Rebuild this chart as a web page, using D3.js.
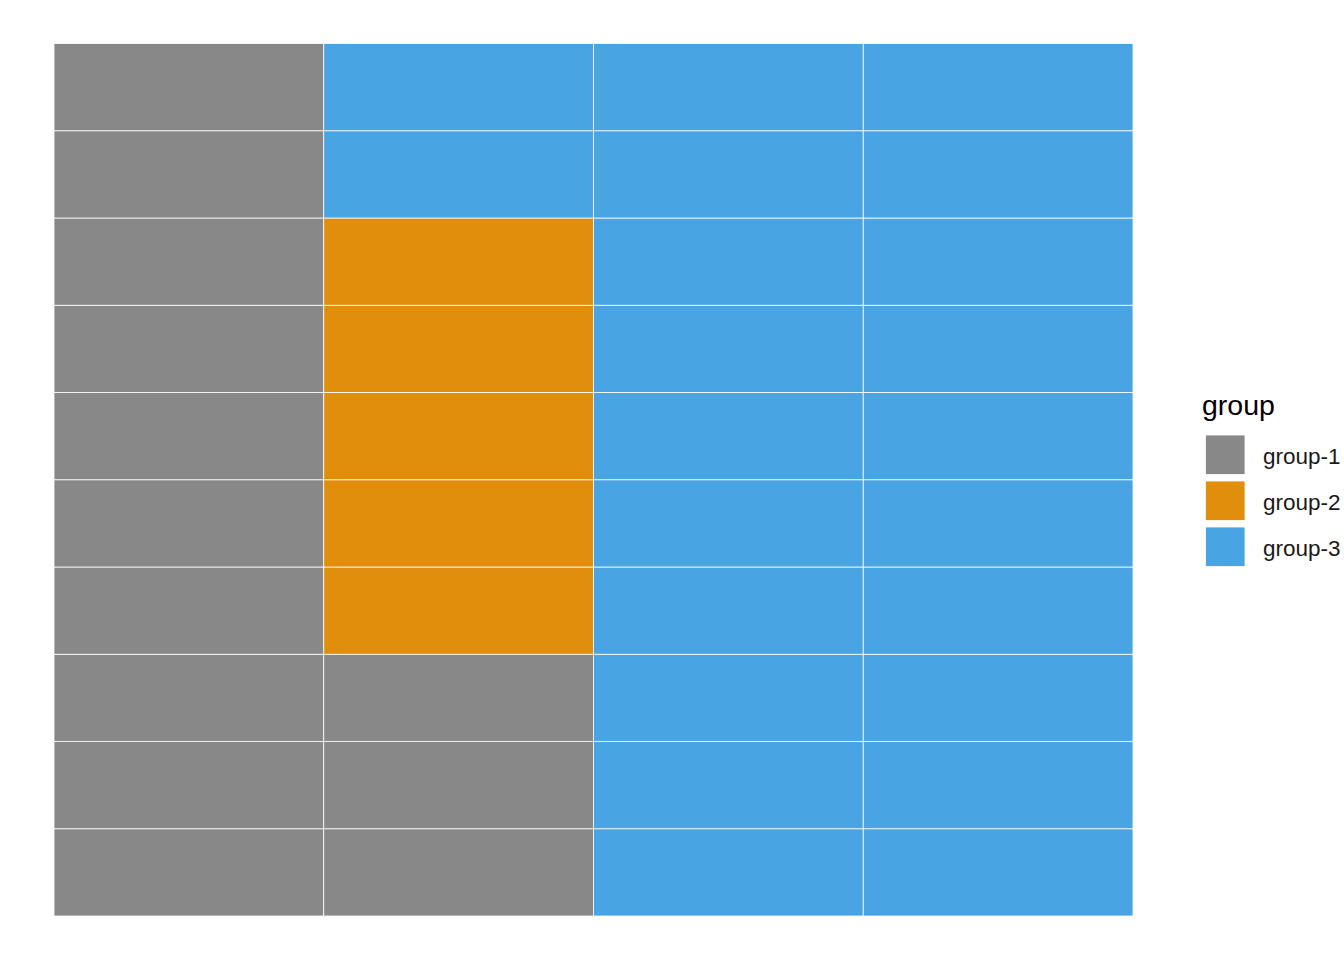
<!DOCTYPE html>
<html>
<head>
<meta charset="utf-8">
<script src="https://cdn.jsdelivr.net/npm/d3@7"></script>
<style>
  html, body { margin: 0; padding: 0; background: #fff; }
  text { font-family: "Liberation Sans", Arial, sans-serif; }
</style>
</head>
<body>
<svg id="chart" width="1344" height="960"></svg>
<script>
const groups = ["group-1", "group-2", "group-3"];
const counts = [13, 5, 22];
const colors = ["#888888", "#E08E0B", "#48A4E2"];
const nRows = 10;
const nCols = 4;

// Build cells: fill column-wise from bottom
const cells = [];
let idx = 0;
groups.forEach((g, gi) => {
  for (let k = 0; k < counts[gi]; k++) {
    cells.push({ group: g, col: Math.floor(idx / nRows), row: idx % nRows });
    idx++;
  }
});

const svg = d3.select("#chart");
const plotLeft = 54, plotRight = 1133, plotTop = 43.5, plotBottom = 916;

const x = d3.scaleBand().domain(d3.range(nCols)).range([plotLeft, plotRight]).padding(0);
const y = d3.scaleBand().domain(d3.range(nRows)).range([plotBottom, plotTop]).padding(0);
const color = d3.scaleOrdinal().domain(groups).range(colors);

svg.append("g").selectAll("rect").data(cells).enter().append("rect")
  .attr("x", d => x(d.col))
  .attr("y", d => y(d.row))
  .attr("width", x.bandwidth())
  .attr("height", y.bandwidth())
  .attr("fill", d => color(d.group))
  .attr("stroke", "#ffffff")
  .attr("stroke-width", 0.8);

// Legend
const lg = svg.append("g");
lg.append("text").attr("x", 1202).attr("y", 415)
  .attr("font-size", 28.5).attr("fill", "#000").text("group");

const ly = d3.scaleBand().domain(groups).range([434.5, 572.5]).padding(0);
const items = lg.selectAll("g.item").data(groups).enter().append("g").attr("class", "item");
items.append("rect")
  .attr("x", 1205.5)
  .attr("y", d => ly(d) + 0.5)
  .attr("width", 39.5)
  .attr("height", 39.5)
  .attr("fill", d => color(d))
  .attr("stroke", "#ffffff")
  .attr("stroke-width", 0.8);
items.append("text")
  .attr("x", 1263)
  .attr("y", d => ly(d) + 29)
  .attr("font-size", 22.5)
  .attr("fill", "#1a1a1a")
  .text(d => d);
</script>
</body>
</html>
